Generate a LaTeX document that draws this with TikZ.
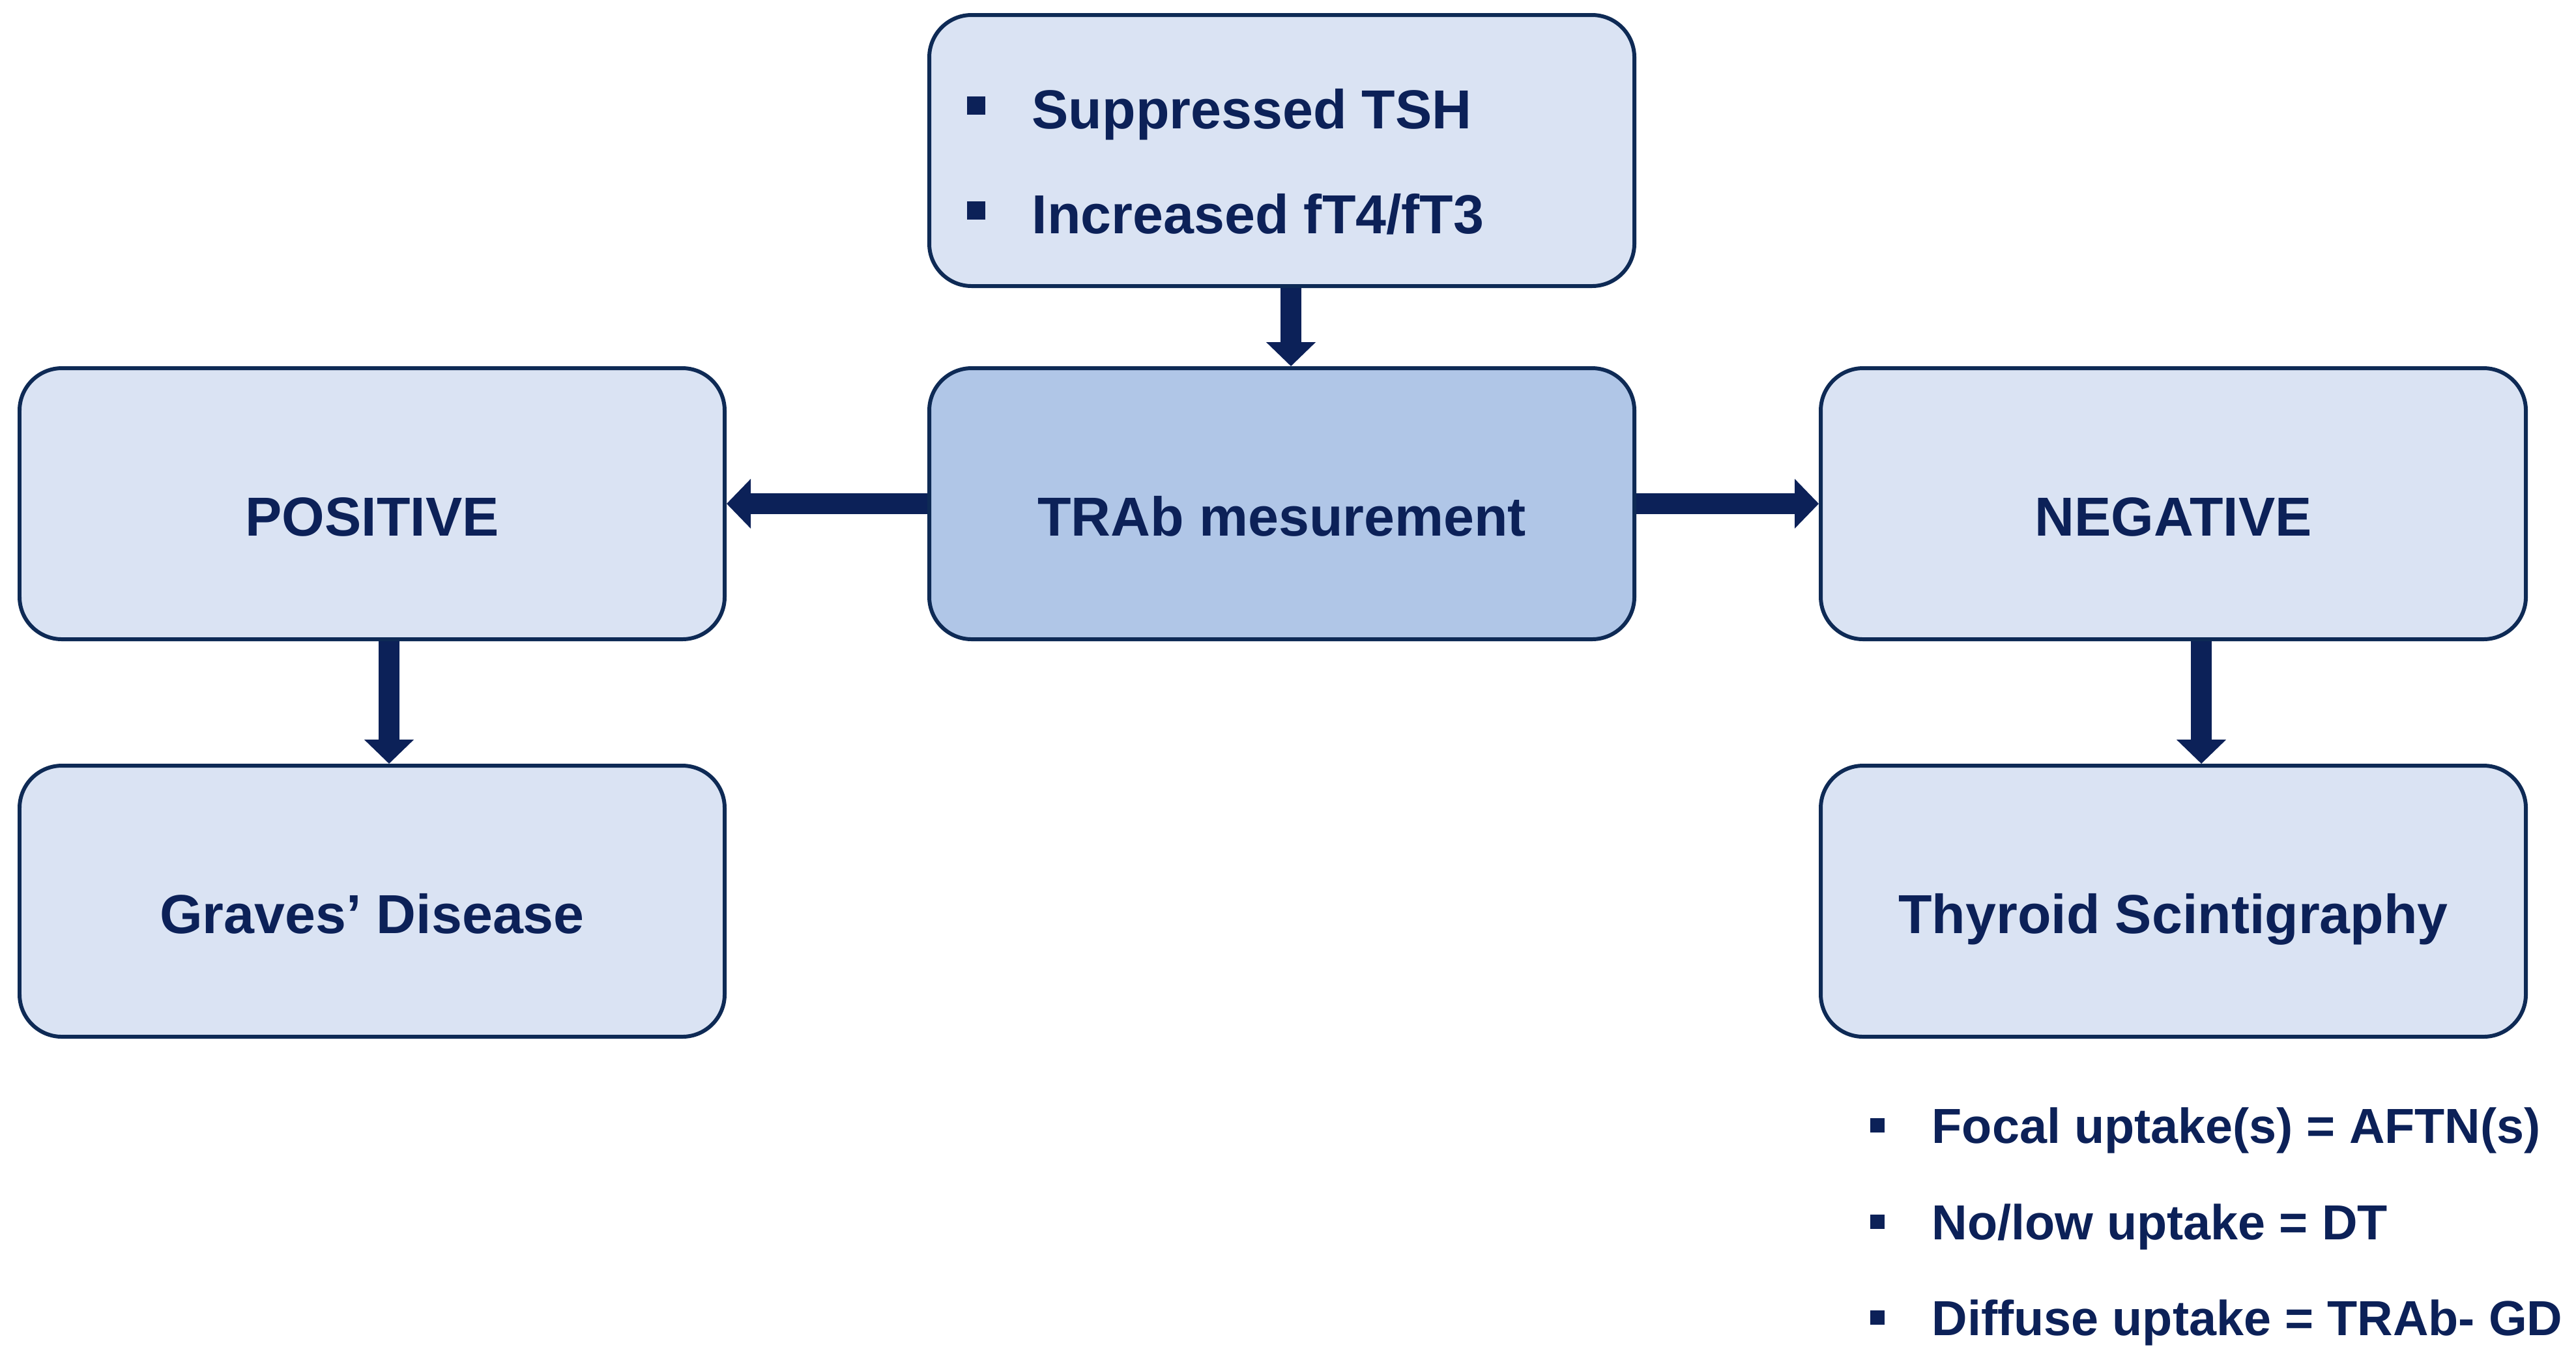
\documentclass[tikz,border=0pt]{standalone}
\usepackage{fontspec}
\setmainfont{Liberation Sans}
\usepackage{tikz}
\usetikzlibrary{calc,arrows.meta}
\definecolor{navy}{HTML}{0C2158}
\definecolor{edge}{HTML}{0E2A55}
\definecolor{paleblue}{HTML}{DAE3F3}
\definecolor{midblue}{HTML}{B0C6E7}
\tikzset{
  rbox/.style   = {draw=edge, fill=paleblue, line width=1.7pt, rounded corners=6.5mm,
                  minimum width=10.82cm, minimum height=4.16cm, inner sep=0pt,
                  text height=9.8mm, text depth=0pt, text=navy,
                  font=\fontsize{24}{28}\selectfont\bfseries},
  hbox/.style   = {rbox, fill=midblue},
  barr/.style   = {draw=navy, line width=9pt,
                  -{Triangle[width=7.4mm, length=3.7mm]}},
  itm/.style    = {anchor=base west, inner sep=0pt, text=navy,
                  font=\fontsize{24}{28}\selectfont\bfseries},
  sitm/.style   = {anchor=base west, inner sep=0pt, text=navy,
                  font=\fontsize{21.5}{25}\selectfont\bfseries},
}
\newcommand{\bsq}{\raisebox{2.1mm}{\rule{2.8mm}{2.8mm}}\hspace{7.2mm}}
\newcommand{\sbsq}{\raisebox{1.6mm}{\rule{2.2mm}{2.2mm}}\hspace{7.3mm}}
\begin{document}
\begin{tikzpicture}
  \useasboundingbox (0,0) rectangle (39.53,-20.80);
  % boxes
  \node[rbox] (sym)    at (19.67,-2.31)  {};
  \node[hbox] (trab)   at (19.67,-7.73)  {TRAb mesurement};
  \node[rbox] (pos)    at (5.71,-7.73)   {POSITIVE};
  \node[rbox] (neg)    at (33.35,-7.73)  {NEGATIVE};
  \node[rbox] (graves) at (5.71,-13.83)  {Graves’ Disease};
  \node[rbox] (scint)  at (33.35,-13.83) {Thyroid Scintigraphy};
  % bullet lists
  \node[itm] (sym1) at (14.83,-1.97) {\bsq Suppressed TSH};
  \node[itm] (sym2) at (14.83,-3.58) {\bsq Increased fT4/fT3};
  \node[sitm] (res1) at (28.69,-17.54) {\sbsq Focal uptake(s) = AFTN(s)};
  \node[sitm] (res2) at (28.69,-19.02) {\sbsq No/low uptake = DT};
  \node[sitm] (res3) at (28.69,-20.49) {\sbsq Diffuse uptake = TRAb- GD};
  % arrows
  \draw[barr] ($(sym.south)+(0.14,0)$)--($(trab.north)+(0.14,0)$);
  \draw[barr] (trab.west)--(pos.east);
  \draw[barr] (trab.east)--(neg.west);
  \draw[barr] ($(pos.south)+(0.26,0)$)--($(graves.north)+(0.26,0)$);
  \draw[barr] ($(neg.south)+(0.43,0)$)--($(scint.north)+(0.43,0)$);
\end{tikzpicture}
\end{document}
